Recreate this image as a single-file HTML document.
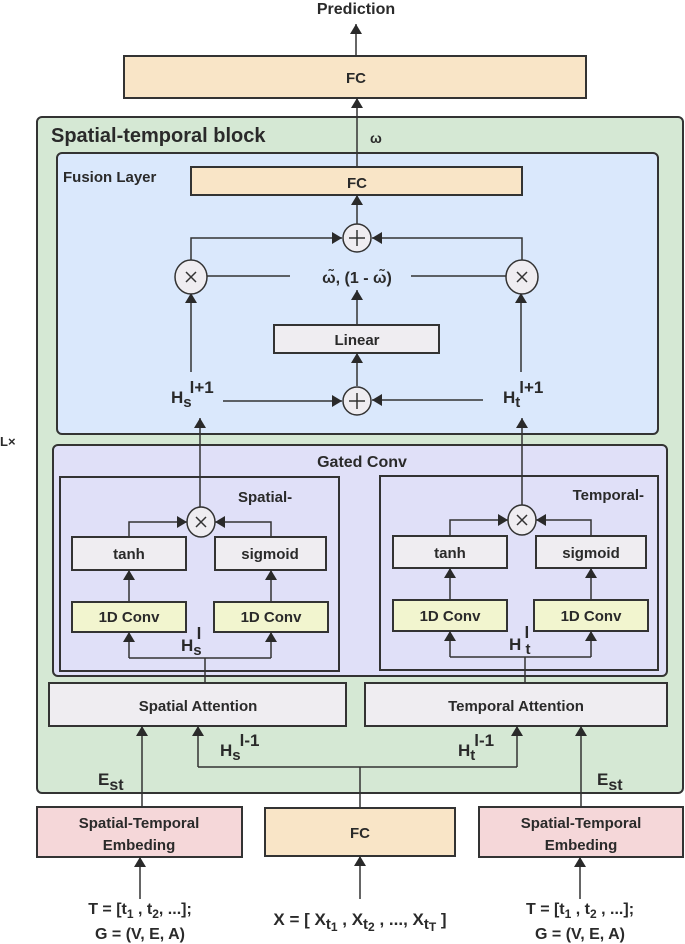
<!DOCTYPE html>
<html><head><meta charset="utf-8"><style>
html,body{margin:0;padding:0;background:#fff}
svg{display:block}
text{font-family:"Liberation Sans",sans-serif;font-weight:bold;fill:#2a2a2a}
</style></head><body>
<svg width="685" height="944" viewBox="0 0 685 944" xmlns="http://www.w3.org/2000/svg">
<defs>
<marker id="a" viewBox="0 0 10 12" refX="10" refY="6" markerWidth="11" markerHeight="12" markerUnits="userSpaceOnUse" orient="auto"><path d="M0,0 L10,6 L0,12 z" fill="#2a2a2a"/></marker>
</defs>
<g stroke="#333" stroke-width="2">
<rect x="37" y="117" width="646" height="676" rx="5" fill="#d5e8d4"/>
<rect x="57" y="153" width="601" height="281" rx="5" fill="#dae8fc"/>
<rect x="53" y="445" width="614" height="231" rx="5" fill="#e0e0f8"/>
<rect x="60" y="477" width="279" height="194" fill="#e0e0f8"/>
<rect x="380" y="476" width="278" height="194" fill="#e0e0f8"/>
<rect x="124" y="56" width="462" height="42" fill="#f9e5c7"/>
<rect x="191" y="167" width="331" height="28" fill="#f9e5c7"/>
<rect x="274" y="325" width="165" height="28" fill="#efedf1"/>
<rect x="72" y="537" width="114" height="33" fill="#efedf1"/>
<rect x="215" y="537" width="111" height="33" fill="#efedf1"/>
<rect x="393" y="536" width="114" height="32" fill="#efedf1"/>
<rect x="536" y="536" width="110" height="32" fill="#efedf1"/>
<rect x="72" y="602" width="114" height="30" fill="#f2f5cf"/>
<rect x="214" y="602" width="114" height="30" fill="#f2f5cf"/>
<rect x="393" y="600" width="114" height="31" fill="#f2f5cf"/>
<rect x="534" y="600" width="114" height="31" fill="#f2f5cf"/>
<rect x="49" y="683" width="297" height="43" fill="#efedf1"/>
<rect x="365" y="683" width="302" height="43" fill="#efedf1"/>
<rect x="37" y="807" width="205" height="50" fill="#f5d7d9"/>
<rect x="265" y="808" width="190" height="48" fill="#f9e5c7"/>
<rect x="479" y="807" width="204" height="50" fill="#f5d7d9"/>
</g>
<g stroke="#333" stroke-width="1.5" fill="none">
<line x1="356" y1="56" x2="356" y2="24" marker-end="url(#a)"/>
<line x1="357" y1="167" x2="357" y2="98" marker-end="url(#a)"/>
<line x1="357" y1="224" x2="357" y2="195" marker-end="url(#a)"/>
<polyline points="191,261 191,238 342,238" marker-end="url(#a)"/>
<polyline points="522,261 522,238 372,238" marker-end="url(#a)"/>
<line x1="207" y1="276" x2="290" y2="276"/>
<line x1="411" y1="276" x2="506" y2="276"/>
<line x1="357" y1="325" x2="357" y2="290" marker-end="url(#a)"/>
<line x1="357" y1="386" x2="357" y2="353" marker-end="url(#a)"/>
<line x1="223" y1="401" x2="342" y2="401" marker-end="url(#a)"/>
<line x1="483" y1="400" x2="372" y2="400" marker-end="url(#a)"/>
<line x1="191" y1="372" x2="191" y2="293" marker-end="url(#a)"/>
<line x1="521" y1="372" x2="521" y2="293" marker-end="url(#a)"/>
<line x1="200" y1="508" x2="200" y2="418" marker-end="url(#a)"/>
<line x1="522" y1="506" x2="522" y2="418" marker-end="url(#a)"/>
<polyline points="129,537 129,522 187,522" marker-end="url(#a)"/>
<polyline points="271,537 271,522 215,522" marker-end="url(#a)"/>
<line x1="129" y1="602" x2="129" y2="570" marker-end="url(#a)"/>
<line x1="271" y1="602" x2="271" y2="570" marker-end="url(#a)"/>
<polyline points="129,658 129,632" marker-end="url(#a)"/>
<polyline points="129,658 271,658"/>
<polyline points="271,658 271,632" marker-end="url(#a)"/>
<line x1="205" y1="658" x2="205" y2="683"/>
<polyline points="450,536 450,520 508,520" marker-end="url(#a)"/>
<polyline points="591,536 591,520 536,520" marker-end="url(#a)"/>
<line x1="450" y1="600" x2="450" y2="568" marker-end="url(#a)"/>
<line x1="591" y1="600" x2="591" y2="568" marker-end="url(#a)"/>
<polyline points="450,657 450,631" marker-end="url(#a)"/>
<polyline points="450,657 591,657"/>
<polyline points="591,657 591,631" marker-end="url(#a)"/>
<line x1="525" y1="657" x2="525" y2="683"/>
<line x1="142" y1="807" x2="142" y2="726" marker-end="url(#a)"/>
<line x1="581" y1="807" x2="581" y2="726" marker-end="url(#a)"/>
<polyline points="198,767 198,726" marker-end="url(#a)"/>
<polyline points="198,767 517,767"/>
<polyline points="517,767 517,726" marker-end="url(#a)"/>
<line x1="360" y1="767" x2="360" y2="808"/>
<line x1="140" y1="899" x2="140" y2="857" marker-end="url(#a)"/>
<line x1="360" y1="899" x2="360" y2="856" marker-end="url(#a)"/>
<line x1="580" y1="899" x2="580" y2="857" marker-end="url(#a)"/>
</g>
<g stroke="#333" stroke-width="1.5" fill="#efedf1">
<circle cx="357" cy="238" r="14"/>
<circle cx="357" cy="401" r="14"/>
<ellipse cx="191" cy="277" rx="16" ry="17"/>
<ellipse cx="522" cy="277" rx="16" ry="17"/>
<ellipse cx="201" cy="522" rx="14" ry="15"/>
<ellipse cx="522" cy="520" rx="14" ry="15"/>
</g>
<g stroke="#333" stroke-width="1.5">
<line x1="349" y1="238" x2="365" y2="238"/><line x1="357" y1="230" x2="357" y2="246"/>
<line x1="349" y1="401" x2="365" y2="401"/><line x1="357" y1="393" x2="357" y2="409"/>
<line x1="186" y1="272" x2="196" y2="282"/><line x1="196" y1="272" x2="186" y2="282"/>
<line x1="517" y1="272" x2="527" y2="282"/><line x1="527" y1="272" x2="517" y2="282"/>
<line x1="196" y1="517" x2="206" y2="527"/><line x1="206" y1="517" x2="196" y2="527"/>
<line x1="517" y1="515" x2="527" y2="525"/><line x1="527" y1="515" x2="517" y2="525"/>
</g>
<g text-anchor="middle" font-size="15">
<text x="356" y="14" font-size="16">Prediction</text>
<text x="356" y="83">FC</text>
<text x="357" y="188">FC</text>
<text x="357" y="345">Linear</text>
<text x="357" y="283" font-size="16" font-weight="normal">ω̃, (1 - ω̃)</text>
<text x="362" y="467" font-size="16">Gated Conv</text>
<text x="129" y="559">tanh</text>
<text x="270" y="559">sigmoid</text>
<text x="450" y="558">tanh</text>
<text x="591" y="558">sigmoid</text>
<text x="129" y="622">1D Conv</text>
<text x="271" y="622">1D Conv</text>
<text x="450" y="621">1D Conv</text>
<text x="591" y="621">1D Conv</text>
<text x="198" y="711">Spatial Attention</text>
<text x="516" y="711">Temporal Attention</text>
<text x="139" y="828">Spatial-Temporal</text>
<text x="139" y="850">Embeding</text>
<text x="360" y="838">FC</text>
<text x="581" y="828">Spatial-Temporal</text>
<text x="581" y="850">Embeding</text>
<text x="360" y="925" font-size="17">X = [ X<tspan font-size="15" dy="4">t</tspan><tspan font-size="12" dy="2">1</tspan><tspan dy="-6"> , X</tspan><tspan font-size="15" dy="4">t</tspan><tspan font-size="12" dy="2">2</tspan><tspan dy="-6"> , ..., X</tspan><tspan font-size="15" dy="4">t</tspan><tspan font-size="12" dy="2">T</tspan><tspan dy="-6"> ]</tspan></text>
<text x="140" y="914" font-size="16">T = [t<tspan font-size="12" dy="4">1</tspan><tspan dy="-4"> , t</tspan><tspan font-size="12" dy="4">2</tspan><tspan dy="-4">, ...];</tspan></text>
<text x="140" y="939" font-size="16">G = (V, E, A)</text>
<text x="580" y="914" font-size="16">T = [t<tspan font-size="12" dy="4">1</tspan><tspan dy="-4"> , t</tspan><tspan font-size="12" dy="4">2</tspan><tspan dy="-4"> , ...];</tspan></text>
<text x="580" y="939" font-size="16">G = (V, E, A)</text>
</g>
<text x="51" y="142" font-size="20">Spatial-temporal block</text>
<text x="370" y="143" font-size="14">ω</text>
<text x="63" y="182" font-size="15">Fusion Layer</text>
<text x="238" y="502" font-size="15">Spatial-</text>
<text x="644" y="500" font-size="15" text-anchor="end">Temporal-</text>
<text x="0" y="446" font-size="13">L×</text>
<g font-size="17">
<text x="171" y="403">H<tspan font-size="15" dy="4">s</tspan><tspan dy="-14" dx="-2">l+1</tspan></text>
<text x="503" y="403">H<tspan font-size="15" dy="4">t</tspan><tspan dy="-14" dx="-1">l+1</tspan></text>
<text x="181" y="651">H<tspan font-size="15" dy="4">s</tspan><tspan dy="-16" dx="-5">l</tspan></text>
<text x="509" y="650">H<tspan font-size="15" dy="4"> t</tspan><tspan dy="-16" dx="-6">l</tspan></text>
<text x="220" y="756">H<tspan font-size="15" dy="4">s</tspan><tspan dy="-14" dx="-1">l-1</tspan></text>
<text x="458" y="756">H<tspan font-size="15" dy="4">t</tspan><tspan dy="-14" dx="-1">l-1</tspan></text>
<text x="98" y="785">E<tspan font-size="16" dy="5">st</tspan></text>
<text x="597" y="785">E<tspan font-size="16" dy="5">st</tspan></text>
</g>
</svg>
</body></html>
